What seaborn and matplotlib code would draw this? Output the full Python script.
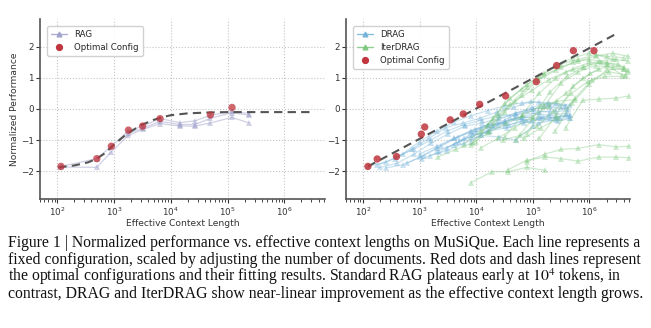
import numpy as np
import pandas as pd
import matplotlib
matplotlib.use("Agg")
import matplotlib.pyplot as plt
from matplotlib.lines import Line2D
import seaborn as sns

# ---------------- data ----------------
rag_x = [
    [117, 500, 900, 1800, 3200, 6500, 14500, 27000, 50000, 120000, 240000],
    [117, 500, 900, 1800, 3200, 6500, 14500, 27000, 50000, 120000, 240000],
    [1800, 3200, 6500, 14500, 27000, 50000, 120000, 240000],
]
rag_y = [
    [-1.85, -1.60, -1.20, -0.70, -0.55, -0.31, -0.44, -0.38, -0.20, -0.08, -0.15],
    [-1.87, -1.88, -1.38, -0.85, -0.66, -0.47, -0.55, -0.55, -0.45, -0.27, -0.45],
    [-0.78, -0.62, -0.40, -0.50, -0.50, -0.30, -0.12, -0.20],
]
rag_opt_x = [117, 500, 900, 1800, 3200, 6500, 50000, 120000]
rag_opt_y = [-1.85, -1.60, -1.20, -0.68, -0.55, -0.31, -0.19, 0.05]
rag_fit_x = [105, 200, 350, 500, 700, 1000, 1500, 2000, 3000, 5000, 7000,
             10000, 20000, 50000, 100000, 1000000, 3000000]
rag_fit_y = [-1.88, -1.82, -1.72, -1.60, -1.42, -1.15, -0.88, -0.72, -0.52,
             -0.35, -0.27, -0.20, -0.14, -0.11, -0.10, -0.10, -0.10]

drag_x = [
    [122, 250, 500, 1000, 2000, 4000, 8000, 16000, 32000, 64000, 128000, 256000, 450000],
    [178, 360, 720, 1440, 2900, 5800, 11500, 23000, 46000, 92000, 184000, 370000],
    [200, 400, 800, 1600, 3200, 6400, 12800, 25600, 51200, 102400, 204800, 409600],
    [390, 780, 1560, 3120, 6240, 12500, 25000, 50000, 100000, 200000, 400000],
    [250, 500, 1000, 2000, 4000, 8000, 16000, 32000, 64000, 128000, 256000, 450000],
    [600, 1200, 2400, 4800, 9600, 19200, 38400, 76800, 153600, 307200],
    [1100, 2200, 4400, 8800, 17600, 35200, 70400, 140800, 281600, 450000],
    [1000, 2000, 4000, 8000, 16000, 32000, 64000, 128000, 256000],
    [3000, 6000, 12000, 24000, 48000, 96000, 192000, 384000],
    [5000, 10000, 20000, 40000, 80000, 160000, 320000],
    [2000, 4000, 8000, 16000, 32000, 64000, 128000, 256000, 450000],
    [8000, 16000, 32000, 64000, 128000, 256000, 450000],
    [12000, 25000, 50000, 100000, 200000, 400000],
    [1500, 3000, 6000, 12000, 24000, 48000, 96000, 190000, 380000],
]
drag_y = [
    [-1.85, -1.72, -1.45, -1.05, -0.72, -0.42, -0.22, -0.05, 0.10, 0.20, 0.22, 0.18, 0.12],
    [-1.80, -1.60, -1.30, -0.95, -0.60, -0.45, -0.30, -0.10, 0.05, 0.25, 0.15, 0.10],
    [-1.88, -1.75, -1.45, -1.10, -0.80, -0.55, -0.45, -0.30, -0.12, 0.00, 0.05, 0.00],
    [-1.55, -1.30, -1.00, -0.70, -0.50, -0.35, -0.20, -0.20, -0.05, -0.10, -0.05],
    [-1.90, -1.80, -1.55, -1.25, -0.95, -0.70, -0.50, -0.45, -0.30, -0.15, -0.25, -0.20],
    [-1.75, -1.50, -1.20, -0.90, -0.65, -0.50, -0.50, -0.35, -0.25, -0.30],
    [-1.60, -1.40, -1.10, -0.85, -0.70, -0.60, -0.45, -0.30, -0.40, -0.30],
    [-1.45, -1.20, -0.95, -0.75, -0.55, -0.40, -0.25, -0.10, -0.05],
    [-1.25, -0.95, -0.60, -0.35, -0.15, 0.05, 0.20, 0.10],
    [-1.05, -0.75, -0.55, -0.25, -0.05, 0.10, 0.05],
    [-1.35, -1.15, -0.90, -0.70, -0.55, -0.40, -0.45, -0.35, -0.30],
    [-1.05, -0.70, -0.40, -0.25, -0.30, -0.30, -0.20],
    [-0.85, -0.90, -1.00, -0.55, -0.30, -0.20],
    [-1.50, -1.35, -1.10, -0.85, -0.50, -0.30, -0.40, -0.20, -0.15],
]

iter_x = [
    [8000, 16000, 32000, 64000, 128000, 256000, 512000, 1.0e6, 2.0e6, 4.0e6],
    [10000, 20000, 40000, 80000, 160000, 320000, 640000, 1.28e6, 2.56e6, 4.8e6],
    [16000, 32000, 64000, 128000, 256000, 512000, 1.0e6, 2.0e6, 4.0e6],
    [20000, 40000, 80000, 160000, 320000, 640000, 1.28e6, 2.56e6, 4.8e6],
    [32000, 64000, 128000, 256000, 512000, 1.0e6, 2.0e6, 4.0e6],
    [50000, 100000, 200000, 400000, 800000, 1.6e6, 3.2e6, 4.8e6],
    [80000, 160000, 320000, 640000, 1.28e6, 2.56e6, 4.8e6],
    [130000, 260000, 520000, 1.04e6, 2.08e6, 4.16e6],
    [250000, 500000, 1.0e6, 2.0e6, 4.0e6],
    [2100, 4300, 8600, 17000, 34000, 68000, 136000, 272000, 544000],
    [380000, 760000, 1.5e6, 3.0e6, 5.0e6],
    [8100, 19000, 37000, 78000, 166000],
    [37000, 78000, 166000, 316000, 630000, 1.45e6, 3.0e6, 5.0e6],
    [78000, 166000, 316000, 630000, 1.45e6, 3.0e6, 5.0e6],
    [12000, 24000, 48000, 96000, 192000, 384000, 768000, 1.5e6],
    [6000, 12000, 24000, 48000, 96000, 192000, 384000, 768000, 1.5e6, 3.0e6],
    [30000, 60000, 120000, 240000, 480000, 960000, 1.9e6, 3.8e6],
    [70000, 140000, 280000, 560000, 1.1e6, 2.2e6, 4.4e6],
]
iter_y = [
    [-1.15, -0.50, 0.20, 0.65, 1.05, 1.40, 1.65, 1.80, 1.70, 1.65],
    [-1.05, -0.30, 0.35, 0.80, 1.15, 1.45, 1.60, 1.75, 1.60, 1.55],
    [-0.75, -0.10, 0.45, 0.95, 1.25, 1.50, 1.60, 1.50, 1.35],
    [-0.45, 0.15, 0.70, 1.10, 1.35, 1.55, 1.70, 1.80, 1.70],
    [-0.90, -0.20, 0.50, 1.00, 1.30, 1.50, 1.45, 1.30],
    [-1.00, -0.30, 0.55, 1.05, 1.35, 1.50, 1.45, 1.25],
    [-0.80, 0.10, 0.85, 1.20, 1.40, 1.35, 1.20],
    [-0.95, -0.20, 0.75, 1.15, 1.40, 1.05],
    [-0.70, 0.20, 0.80, 1.25, 1.30],
    [-1.55, -1.30, -1.10, -0.75, -0.45, -0.20, 0.10, 0.25, 0.30],
    [-0.60, 0.28, 0.32, 0.35, 0.42],
    [-2.37, -2.02, -2.02, -1.88, -1.98],
    [-1.95, -1.65, -1.55, -1.60, -1.68, -1.55, -1.55, -1.57],
    [-1.70, -1.45, -1.30, -1.27, -1.15, -1.22, -1.20],
    [-1.25, -0.95, -0.60, -0.25, 0.10, 0.50, 1.00, 1.30],
    [-1.15, -0.70, -0.20, 0.25, 0.60, 0.95, 1.20, 1.35, 1.55, 1.60],
    [-1.00, -0.85, -0.55, -0.05, 0.50, 0.90, 1.05, 1.05],
    [-0.95, -0.60, -0.30, 0.35, 0.95, 1.20, 1.10],
]
drag_opt_x = [122, 178, 390, 1070, 1230, 3470, 5900, 11500, 33000, 115000, 263000, 520000, 1200000]
drag_opt_y = [-1.85, -1.61, -1.53, -0.81, -0.58, -0.35, -0.16, 0.15, 0.42, 0.88, 1.40, 1.88, 1.88]
drag_fit_x = [122, 2750000]
drag_fit_y = [-1.85, 2.39]

caption_lines = [
    "Figure 1 | Normalized performance vs. effective context lengths on MuSiQue. Each line represents a",
    "fixed configuration, scaled by adjusting the number of documents. Red dots and dash lines represent",
    "the optimal configurations and their fitting results. Standard RAG plateaus early at $10^4$ tokens, in",
    "contrast, DRAG and IterDRAG show near-linear improvement as the effective context length grows.",
]

# ---------------- build frames ----------------
def to_long(xs, ys, name):
    rows = []
    for i, (xx, yy) in enumerate(zip(xs, ys)):
        for a, b in zip(xx, yy):
            rows.append((name, f"{name}{i}", a, b))
    return pd.DataFrame(rows, columns=["method", "cfg", "x", "y"])

rag_df = to_long(rag_x, rag_y, "RAG")
drag_df = to_long(drag_x, drag_y, "DRAG")
iter_df = to_long(iter_x, iter_y, "IterDRAG")

# ---------------- style ----------------
sns.set_theme(style="ticks")
plt.rcParams["font.family"] = ["DejaVu Sans"]
plt.rcParams["mathtext.fontset"] = "dejavusans"

c_rag = "#9a9ac8"
c_drag = "#6aaed6"
c_iter = "#74c476"
c_red = "#c0353e"

fig = plt.figure(figsize=(6.51, 3.28), dpi=100)
ax1 = fig.add_axes([40 / 651, 1 - 199 / 328, 285 / 651, 180 / 328])
ax2 = fig.add_axes([346 / 651, 1 - 199 / 328, 284 / 651, 180 / 328])

# left panel
sns.lineplot(data=rag_df, x="x", y="y", units="cfg", estimator=None, color=c_rag,
             marker="^", markersize=4.5, markeredgewidth=0, lw=0.9, alpha=0.45,
             ax=ax1, legend=False)
sns.lineplot(x=rag_fit_x, y=rag_fit_y, color="#555555", lw=1.5, ls=(0, (4, 2.5)),
             ax=ax1, legend=False)
sns.scatterplot(x=rag_opt_x, y=rag_opt_y, color=c_red, s=28, alpha=0.75,
                edgecolor="none", ax=ax1, legend=False, zorder=5)

# right panel
sns.lineplot(data=drag_df, x="x", y="y", units="cfg", estimator=None, color=c_drag,
             marker="^", markersize=4.5, markeredgewidth=0, lw=0.9, alpha=0.35,
             ax=ax2, legend=False)
sns.lineplot(data=iter_df, x="x", y="y", units="cfg", estimator=None, color=c_iter,
             marker="^", markersize=4.5, markeredgewidth=0, lw=0.9, alpha=0.35,
             ax=ax2, legend=False)
sns.lineplot(x=drag_fit_x, y=drag_fit_y, color="#555555", lw=1.5, ls=(0, (4, 2.5)),
             ax=ax2, legend=False)
sns.scatterplot(x=drag_opt_x, y=drag_opt_y, color=c_red, s=28, alpha=0.85,
                edgecolor="none", ax=ax2, legend=False, zorder=5)

for ax in (ax1, ax2):
    ax.set_xscale("log")
    ax.set_xlim(50, 5.2e6)
    ax.set_ylim(-2.9, 2.9)
    ax.set_yticks([-2, -1, 0, 1, 2])
    ax.set_xticks([1e2, 1e3, 1e4, 1e5, 1e6])
    ax.grid(True, which="major", ls=":", lw=0.8, color="#c4c4c4")
    ax.set_axisbelow(True)
    for s in ("top", "right"):
        ax.spines[s].set_visible(False)
    for s in ("left", "bottom"):
        ax.spines[s].set_color("#555555")
        ax.spines[s].set_linewidth(1.2)
    ax.tick_params(axis="both", which="major", labelsize=6.3, colors="#333333",
                   length=3, width=0.8, pad=1.5)
    ax.tick_params(axis="x", which="minor", length=2.2, width=0.7, colors="#444444")
    ax.set_xlabel("Effective Context Length", fontsize=6.6, color="#333333", labelpad=1)
    ax.set_ylabel("")

ax1.set_ylabel("Normalized Performance", fontsize=6.6, color="#333333", labelpad=1.5)

h_rag = Line2D([], [], color=c_rag, marker="^", markersize=3.5, lw=1, alpha=0.8)
h_drag = Line2D([], [], color=c_drag, marker="^", markersize=3.5, lw=1, alpha=0.8)
h_iter = Line2D([], [], color=c_iter, marker="^", markersize=3.5, lw=1, alpha=0.8)
h_opt = Line2D([], [], color=c_red, marker="o", markersize=4.2, lw=0)

leg_kw = dict(loc="upper left", fontsize=6.2, frameon=True, fancybox=True,
              framealpha=0.9, edgecolor="#cccccc", handlelength=1.8,
              borderpad=0.45, labelspacing=0.45, handletextpad=0.9,
              bbox_to_anchor=(0.01, 0.985))
ax1.legend([h_rag, h_opt], ["RAG", "Optimal Config"], **leg_kw)
ax2.legend([h_drag, h_iter, h_opt], ["DRAG", "IterDRAG", "Optimal Config"], **leg_kw)

# caption
y0 = 243
for i, line in enumerate(caption_lines):
    fig.text(8 / 651, 1 - (y0 + 17 * i) / 328, line, fontsize=11.3,
             family="Liberation Serif", math_fontfamily="stix",
             color="#111111", ha="left", va="center")

fig.savefig("out.png", dpi=100)
